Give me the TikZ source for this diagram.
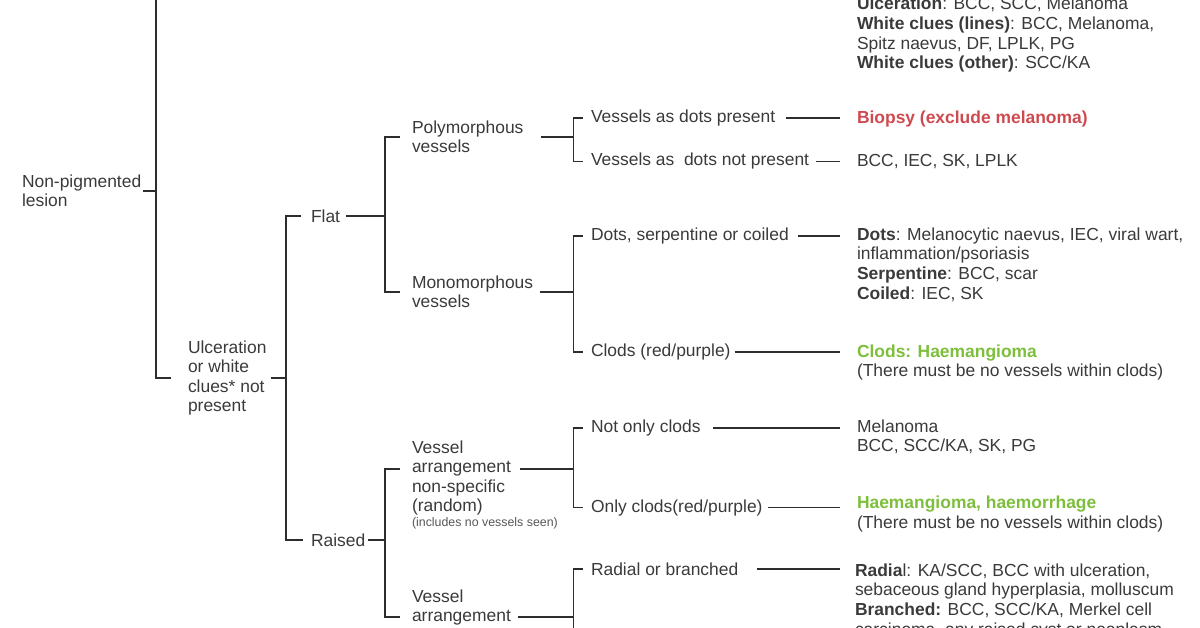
\documentclass[tikz,border=0pt]{standalone}
\usepackage{fontspec}
\setmainfont{Liberation Sans}
\usepackage{xcolor}
\usetikzlibrary{calc}
\definecolor{inkgray}{RGB}{58,58,58}
\definecolor{linegray}{RGB}{45,45,45}
\definecolor{biopsyred}{RGB}{205,75,80}
\definecolor{clodgreen}{RGB}{125,190,60}

\begin{document}
\begin{tikzpicture}[x=0.025cm,y=-0.025cm,
  txt/.style={anchor=base west,inner sep=0pt,outer sep=0pt,align=left,
    text=inkgray,font=\fontsize{12.4}{13.8}\selectfont},
  outcome/.style={txt,font=\fontsize{12.4}{14}\selectfont},
  smallnote/.style={txt,font=\fontsize{8.8}{10}\selectfont,text=inkgray!85},
  branch/.style={draw=linegray,line width=1.4pt}]

%% ── frame: the view is a cut-out of a taller chart ──────────────────────────
\useasboundingbox (0,0) rectangle (1200,628);
\clip (0,0) rectangle (1200,628);

%% spines of the brackets
\coordinate (spineA) at (156,0);
\coordinate (spineB) at (286,0);
\coordinate (spineC) at (385,0);
\coordinate (spineD) at (573.5,0);

%% ════════════════════════════════════════════════════════════════════════════
%%  QUESTIONS — left to right (y = baseline of the last line)
%% ════════════════════════════════════════════════════════════════════════════
\node[txt] (npl) at (22,206.7) {Non-pigmented\\lesion};
\node[txt] (ulc) at (188,411.7) {Ulceration\\or white\\clues* not\\present};

\node[txt] (flat)   at (311,222.7) {Flat};
\node[txt] (raised) at (311,546.7) {Raised};

\node[txt] (poly)    at (412,152.5) {Polymorphous\\vessels};
\node[txt] (mono)    at (412,308)   {Monomorphous\\vessels};
\node[txt] (nonspec) at (412,511.7) {Vessel\\arrangement\\non-specific\\(random)};
\node[smallnote] (nonspecnote) at (412,526.7) {(includes no vessels seen)};
\node[txt] (arr)     at (412,621.7) {Vessel\\arrangement};

\node[txt] (dotsyes) at (591,122.7) {Vessels as dots present};
\node[txt] (dotsno)  at (591,166)   {Vessels as\ \ dots not present};
\node[txt] (dsc)     at (591,240.5) {Dots, serpentine or coiled};
\node[txt] (clods)   at (591,356.7) {Clods (red/purple)};
\node[txt] (notonly) at (591,432.7) {Not only clods};
\node[txt] (onlycl)  at (591,512)   {Only clods(red/purple)};
\node[txt] (radbr)   at (591,575.7) {Radial or branched};

%% ════════════════════════════════════════════════════════════════════════════
%%  OUTCOMES — right column
%% ════════════════════════════════════════════════════════════════════════════
\node[outcome] (rulc) at (857,69)
  {\textbf{Ulceration}: BCC, SCC, Melanoma\\
   \textbf{White clues (lines)}: BCC, Melanoma,\\
   Spitz naevus, DF, LPLK, PG\\
   \textbf{White clues (other)}: SCC/KA};
\node[outcome,text=biopsyred] (rbiopsy) at (857,123.3)
  {\bfseries Biopsy (exclude melanoma)};
\node[outcome] (rbcc) at (857,166.7) {BCC, IEC, SK, LPLK};
\node[outcome] (rdots) at (857,299.3)
  {\textbf{Dots}: Melanocytic naevus, IEC, viral wart,\\
   inflammation/psoriasis\\
   \textbf{Serpentine}: BCC, scar\\
   \textbf{Coiled}: IEC, SK};
\node[outcome] (rclods) at (857,376.7)
  {\textcolor{clodgreen}{\bfseries Clods: Haemangioma}\\
   (There must be no vessels within clods)};
\node[outcome] (rmel) at (857,451.7) {Melanoma\\BCC, SCC/KA, SK, PG};
\node[outcome] (rhaem) at (857,528.3)
  {\textcolor{clodgreen}{\bfseries Haemangioma, haemorrhage}\\
   (There must be no vessels within clods)};
\node[outcome] (rrad) at (855,635.1)
  {\textbf{Radia}l: KA/SCC, BCC with ulceration,\\
   sebaceous gland hyperplasia, molluscum\\
   \textbf{Branched:} BCC, SCC/KA, Merkel cell\\
   carcinoma, any raised cyst or neoplasm};

%% ── brackets ─────────────────────────────────────────────────────────────────
\coordinate (topend) at (156,-20);
\draw[branch,shorten <=1.4pt] (npl.east) -- (npl.east -| spineA);
\draw[branch,shorten >=12.4pt] (topend) |- (ulc.west);

\draw[branch,shorten <=3pt] (ulc.east) -- (ulc.east -| spineB);
\draw[branch,shorten <=7pt,shorten >=5.7pt]
  (flat.west) -- (flat.west -| spineB) |- (raised.west);

%% stubs of the two "Vessel arrangement" boxes sit on their second line
\coordinate (nsjoin)  at ([yshift=6.7pt]nonspec.west);
\coordinate (arrjoin) at ([yshift=-6.7pt]arr.west);

\draw[branch,shorten <=4.3pt] (flat.east) -- (flat.east -| spineC);
\draw[branch,shorten <=8.5pt,shorten >=8.5pt]
  (poly.west) -- (poly.west -| spineC) |- (mono.west);
\draw[branch,shorten <=1.8pt] (raised.east) -- (raised.east -| spineC);
\draw[branch,shorten <=8.2pt,shorten >=8.2pt]
  (nsjoin) -- (nsjoin -| spineC) |- (arrjoin);

\draw[branch,shorten <=12.8pt] (poly.east) -- (poly.east -| spineD);
\draw[branch,shorten <=5.7pt,shorten >=5.7pt]
  (dotsyes.west) -- (dotsyes.west -| spineD) |- (dotsno.west);
\draw[branch,shorten <=5pt] (mono.east) -- (mono.east -| spineD);
\draw[branch,shorten <=5.7pt,shorten >=5.7pt]
  (dsc.west) -- (dsc.west -| spineD) |- (clods.west);
\draw[branch,shorten <=6.5pt] (nonspec.east |- nsjoin) -- (nsjoin -| spineD);
\draw[branch,shorten <=5.7pt,shorten >=5.7pt]
  (notonly.west) -- (notonly.west -| spineD) |- (onlycl.west);
\draw[branch,shorten <=5pt] (arr.east |- arrjoin) -- (arrjoin -| spineD);
\coordinate (radend) at (573.5,660);
\draw[branch,shorten <=5.7pt] (radbr.west) -- (radbr.west -| spineD) -- (radend);

%% ── to the outcomes ──────────────────────────────────────────────────────────
\draw[branch,shorten <=7.8pt,shorten >=12pt] (dotsyes.east) -- (dotsyes.east -| rbiopsy.west);
\draw[branch,shorten <=5pt,shorten >=12pt] (dotsno.east) -- (dotsno.east -| rbcc.west);
\draw[branch,shorten <=6.4pt,shorten >=12pt] (dsc.east) -- (dsc.east -| rdots.west);
\draw[branch,shorten <=2.8pt,shorten >=12pt] (clods.east) -- (clods.east -| rclods.west);
\draw[branch,shorten <=9.2pt,shorten >=12pt] (notonly.east) -- (notonly.east -| rmel.west);
\draw[branch,shorten <=4pt,shorten >=12pt] (onlycl.east) -- (onlycl.east -| rhaem.west);
\draw[branch,shorten <=13.5pt,shorten >=10.6pt] (radbr.east) -- (radbr.east -| rrad.west);

\end{tikzpicture}
\end{document}
